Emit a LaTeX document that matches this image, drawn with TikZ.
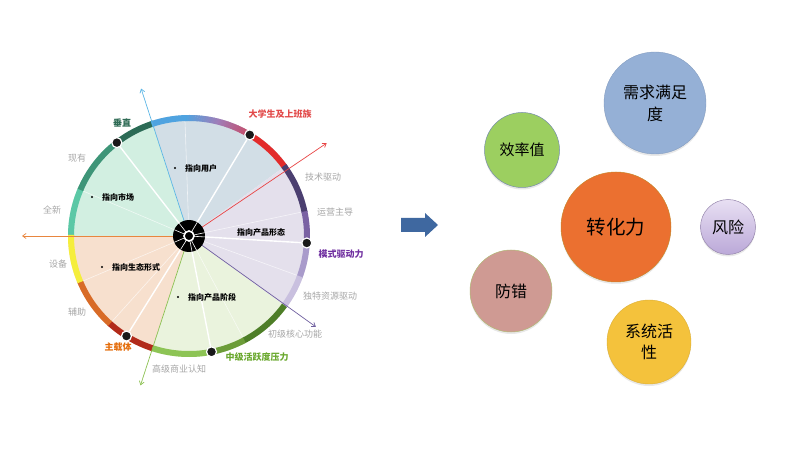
\documentclass[tikz,border=0pt]{standalone}
\usepackage{fontspec}
\newfontfamily\cjk{Noto Sans CJK SC}
\usetikzlibrary{arrows.meta,calc,shadows}
\definecolor{secTop}{HTML}{D2DEE6}
\definecolor{secRight}{HTML}{E4E0EC}
\definecolor{secBottom}{HTML}{EAF3DD}
\definecolor{secLL}{HTML}{F7E0CE}
\definecolor{secUL}{HTML}{D2EFE1}
\definecolor{rUL1}{HTML}{5BC8A6}
\definecolor{rUL2}{HTML}{3E9578}
\definecolor{rUL3}{HTML}{2C6B56}
\definecolor{rBlue}{HTML}{4FA3E0}
\definecolor{rMauve}{HTML}{A07DB8}
\definecolor{rPink}{HTML}{C84A66}
\definecolor{rRed}{HTML}{E22B2B}
\definecolor{rP1}{HTML}{4B3F70}
\definecolor{rP2}{HTML}{7A62A3}
\definecolor{rP3}{HTML}{A99BCB}
\definecolor{rP4}{HTML}{C9C0DF}
\definecolor{rG1}{HTML}{4E7E28}
\definecolor{rG2}{HTML}{6C9C38}
\definecolor{rG3}{HTML}{8DC455}
\definecolor{rY}{HTML}{F5EE3C}
\definecolor{rO}{HTML}{D86B27}
\definecolor{rDR}{HTML}{B22A1A}
\definecolor{aBlue}{HTML}{5BB5E5}
\definecolor{aRed}{HTML}{E84545}
\definecolor{aOrange}{HTML}{E8863F}
\definecolor{aPurple}{HTML}{6F5F9F}
\definecolor{aGreen}{HTML}{8CC152}
\definecolor{lGray}{HTML}{A6A6A6}
\definecolor{lRed}{HTML}{E24A4A}
\definecolor{lPurple}{HTML}{7030A0}
\definecolor{lGreen}{HTML}{6AA82E}
\definecolor{lOrange}{HTML}{E46C0A}
\definecolor{lDkGreen}{HTML}{2F6B55}
\definecolor{bGreen}{HTML}{9CCF60}
\definecolor{bBlue}{HTML}{95B0D6}
\definecolor{bOrange}{HTML}{EB7030}
\definecolor{bRose}{HTML}{CF9A93}
\definecolor{bYellow}{HTML}{F4C23C}
\definecolor{bLavTop}{HTML}{E8E0F3}
\definecolor{bLavBot}{HTML}{BBA8D8}
\definecolor{arrowBlue}{HTML}{3F68A0}
\newcommand\ringseg[3]{\draw[line width=6pt,#1] (C) ++(#2:118pt) arc[start angle=#2,end angle=#3,radius=118pt];}
\newcommand\secfill[3]{\fill[#1] (C) -- +(#2:121pt) arc[start angle=#2,end angle=#3,radius=121pt] -- cycle;}
\begin{document}
\begin{tikzpicture}[x=1pt,y=1pt,
  olab/.style={font=\cjk\fontsize{9}{10}\selectfont,text=lGray,inner sep=0pt},
  blab/.style={font=\cjk\bfseries\fontsize{9}{10}\selectfont,inner sep=0pt},
  ilab/.style={font=\cjk\bfseries\fontsize{8}{9}\selectfont,text=black,inner sep=0pt,anchor=west},
  bul/.style={circle,fill=black,minimum size=2.2pt,inner sep=0pt},
  ringdot/.style={circle,fill=black!90,draw=white,line width=1.2pt,minimum size=10pt,inner sep=0pt},
  divarrow/.style={line width=0.7pt,-{Straight Barb[length=3.5pt,width=5pt]}},
  thinw/.style={white,line width=0.6pt,opacity=0.65},
  dotline/.style={white,line width=1.4pt},
  bubble/.style={circle,inner sep=0pt,align=center,text=black,
    drop shadow={shadow xshift=0pt,shadow yshift=-2pt,opacity=0.18}},
]
\useasboundingbox (0,0) rectangle (800,450);
\coordinate (C) at (189,214);

% sectors
\secfill{secTop}{36}{108}
\secfill{secUL}{108}{180}
\secfill{secLL}{180}{252}
\secfill{secBottom}{252}{324}
\secfill{secRight}{-36}{36}

% thin white lines
\foreach \a in {92,157,203,228,298,12,-20} {
  \draw[thinw] (C) -- +(\a:115pt);
}

% ring segments
\ringseg{rUL1}{180}{156.5}
\ringseg{rUL2}{157}{127.2}
\ringseg{rUL3}{128}{107.5}
\ringseg{rBlue}{108.5}{91.5}
\foreach \i in {0,...,15}{
  \pgfmathsetmacro\aa{92-\i}\pgfmathsetmacro\ab{\aa-1.2}\pgfmathsetmacro\pp{100-\i*100/16}
  \draw[line width=6pt,rBlue!\pp!rMauve] (C) ++(\aa:118pt) arc[start angle=\aa,end angle=\ab,radius=118pt];
}
\foreach \i in {0,...,15}{
  \pgfmathsetmacro\aa{76-\i}\pgfmathsetmacro\ab{\aa-1.2}\pgfmathsetmacro\pp{100-\i*100/16}
  \draw[line width=6pt,rMauve!\pp!rPink] (C) ++(\aa:118pt) arc[start angle=\aa,end angle=\ab,radius=118pt];
}
\ringseg{rRed}{60.5}{35.5}
\ringseg{rP1}{36.5}{11.5}
\ringseg{rP2}{12}{-3.6}
\ringseg{rP3}{-3.4}{-20.5}
\ringseg{rP4}{-20}{-36.5}
\ringseg{rG1}{324}{297.5}
\ringseg{rG2}{298}{280.5}
\ringseg{rG3}{281}{251.5}
\ringseg{rDR}{252}{227.5}
\ringseg{rO}{228}{202.5}
\ringseg{rY}{203}{179.5}

% dividing arrows
\coordinate (eB) at ($(C)+(108:155pt)$);
\coordinate (eR) at ($(C)+(34:166pt)$);
\coordinate (eO) at ($(C)+(180:167pt)$);
\coordinate (eP) at ($(C)+(-35.6:156pt)$);
\coordinate (eG) at ($(C)+(252:157pt)$);
\draw[divarrow,aBlue] (C) -- (eB);
\draw[divarrow,aRed] (C) -- (eR);
\draw[divarrow,aOrange] (C) -- (eO);
\draw[divarrow,aPurple] (C) -- (eP);
\draw[divarrow,aGreen] (C) -- (eG);

% dots on ring
\node[ringdot] (dTop) at ($(C)+(59:118pt)$) {};
\node[ringdot] (dUL) at ($(C)+(127.7:118pt)$) {};
\node[ringdot] (dRight) at ($(C)+(-3.4:118pt)$) {};
\node[ringdot] (dBottom) at ($(C)+(281:118pt)$) {};
\node[ringdot] (dLL) at ($(C)+(238:118pt)$) {};
\foreach \d in {dTop,dUL,dRight,dBottom,dLL} {\draw[dotline] (C) -- (\d);}

% hub
\node[circle,fill=black,minimum size=32pt,inner sep=0pt] (hub) at (C) {};
\foreach \a in {59,127.7,-3.4,281,238,157,203,298,12} {
  \draw[white,line width=0.6pt] (C) ++(\a:5pt) -- +(\a:11pt);
}
\node[circle,fill=black,draw=white,line width=1.6pt,minimum size=10pt,inner sep=0pt] (core) at (C) {};

% inner labels
\node[bul] (b1) at (175,282) {};
\node[ilab] (t1) at (185,282) {指向用户};
\node[bul] (b2) at (92,253) {};
\node[ilab] (t2) at (102,253) {指向市场};
\node[bul] (b3) at (102,183) {};
\node[ilab] (t3) at (112,183) {指向生态形式};
\node[ilab] (t4) at (237,218) {指向产品形态};
\node[bul] (b5) at (178,153) {};
\node[ilab] (t5) at (188,153) {指向产品阶段};

% outer labels
\node[blab,text=lRed] (o1) at (280,336) {大学生及上班族};
\node[olab] (o2) at (323,273) {技术驱动};
\node[olab] (o3) at (335,238) {运营主导};
\node[blab,text=lPurple] (o4) at (341,196) {模式驱动力};
\node[olab] (o5) at (330,154) {独特资源驱动};
\node[olab] (o6) at (295,116) {初级核心功能};
\node[blab,text=lGreen] (o7) at (257,93) {中级活跃度压力};
\node[olab] (o8) at (179,81) {高级商业认知};
\node[blab,text=lOrange] (o9) at (118,103) {主载体};
\node[olab] (o10) at (77,138) {辅助};
\node[olab] (o11) at (58,186) {设备};
\node[olab] (o12) at (52,240) {全新};
\node[olab] (o13) at (77,292) {现有};
\node[blab,text=lDkGreen] (o14) at (122,327) {垂直};

% block arrow
\fill[arrowBlue] (401,218) -- (425,218) -- (425,213) -- (438,225) -- (425,237) -- (425,232) -- (401,232) -- cycle;

% bubbles
\node[bubble,fill=bGreen,draw=bBlue!80!black,line width=0.5pt,minimum size=75pt,font=\cjk\fontsize{15}{18}\selectfont] (xl) at (522,300) {效率值};
\node[bubble,fill=bBlue,draw=bBlue!90!black,line width=0.4pt,minimum size=102pt,font=\cjk\fontsize{16}{22}\selectfont] (xq) at (655,347) {需求满足\\度};
\node[bubble,fill=bOrange,draw=bOrange!85!green,line width=0.5pt,minimum size=110pt,font=\cjk\fontsize{19.5}{22}\selectfont] (zh) at (616,223) {转化力};
\node[bubble,top color=bLavTop,bottom color=bLavBot,draw=bLavBot!80!black,line width=0.5pt,minimum size=55pt,font=\cjk\fontsize{16}{18}\selectfont] (fx) at (728,223) {风险};
\node[bubble,fill=bRose,draw=bGreen!60!bRose,line width=0.5pt,minimum size=82pt,font=\cjk\fontsize{16}{18}\selectfont] (fc) at (511,159) {防错};
\node[bubble,fill=bYellow,draw=bYellow!90!black,line width=0.4pt,minimum size=84pt,font=\cjk\fontsize{16}{21}\selectfont] (xt) at (649,108) {系统活\\性};
\end{tikzpicture}
\end{document}
